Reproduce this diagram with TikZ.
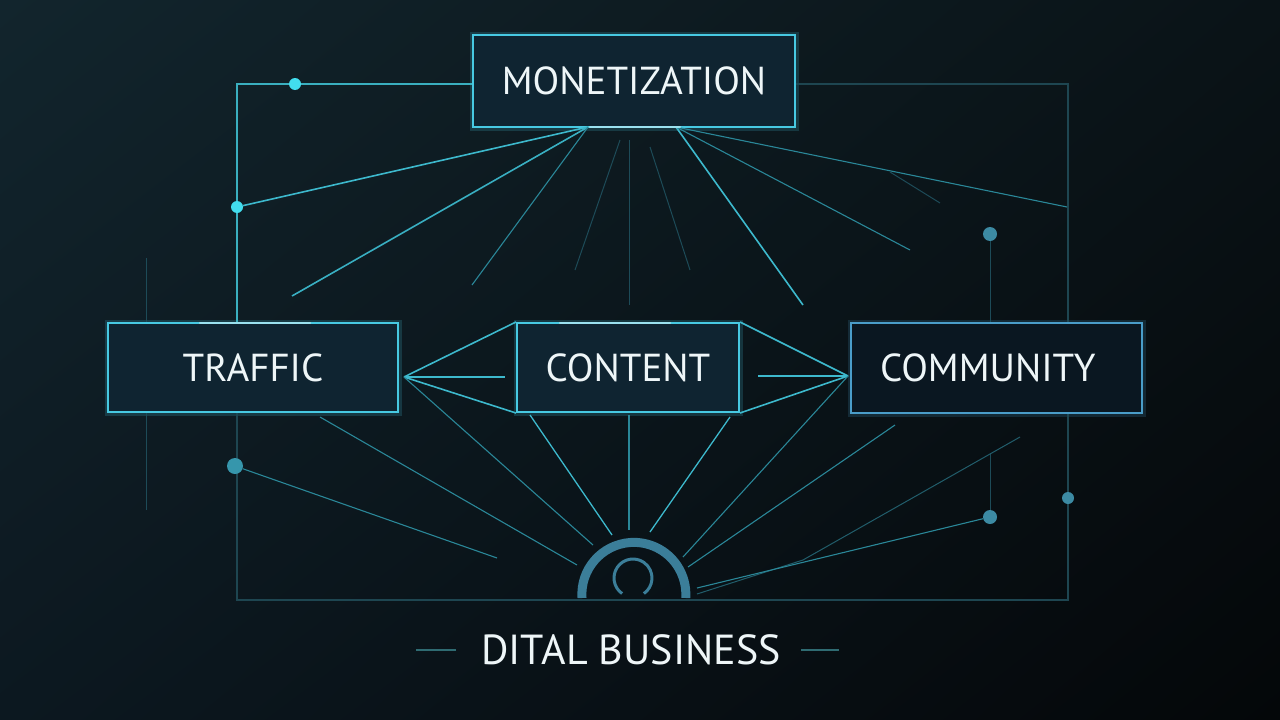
\documentclass[tikz,border=0pt]{standalone}
\usepackage{fontspec}
\setmainfont{PT Sans}
\usetikzlibrary{calc,shadings}
\definecolor{bgul}{HTML}{12252D}
\definecolor{bgur}{HTML}{0A1317}
\definecolor{bgll}{HTML}{0C1820}
\definecolor{bglr}{HTML}{040709}
\definecolor{boxfill}{HTML}{0F2431}
\definecolor{boxfillc}{HTML}{0A1721}
\definecolor{edge}{HTML}{47C9E2}
\definecolor{edgec}{HTML}{4A9DC9}
\definecolor{labeltext}{HTML}{EEF6F8}
\definecolor{raybright}{HTML}{3DB9CD}
\definecolor{raymid}{HTML}{2A8798}
\definecolor{rayfaint}{HTML}{1D4B58}
\definecolor{framebright}{HTML}{3AAFBF}
\definecolor{framedim}{HTML}{1E4651}
\definecolor{dotbright}{HTML}{42DDEE}
\definecolor{dotdim}{HTML}{3C8AA3}
\definecolor{hubcol}{HTML}{3B7E99}
\definecolor{dashcol}{HTML}{2F6B72}
\newcommand\boxfont{\fontsize{39}{46}\selectfont}
\newcommand\titlefont{\fontsize{42}{48}\selectfont}
\begin{document}
\begin{tikzpicture}[x=1pt,y=-1pt,
  labelbox/.style={draw=#1, line width=2, fill=boxfill, text=labeltext, font=\boxfont,
    inner sep=0, minimum height=89, preaction={draw=#1, line width=7, draw opacity=0.18}},
  labelbox/.default=edge,
  brightline/.style={draw=raybright, line width=1.6},
  rayline/.style={draw=raymid, line width=1.1},
  faintline/.style={draw=rayfaint, line width=1},
  rimline/.style={draw=framedim, line width=1.2},
  joint/.style={circle, fill=dotdim, inner sep=0, minimum size=#1},
  joint/.default=14,
  glowline/.style={draw=edge!55!white, line width=2.5, line cap=round}
]
\useasboundingbox (0,0) rectangle (1280,720);
\shade[upper left=bgul, upper right=bgur, lower left=bgll, lower right=bglr] (0,0) rectangle (1280,720);

\node[labelbox, minimum width=322, minimum height=92] (monet) at (634,81) {\raisebox{-2pt}{MONETIZATION}};
\node[labelbox, minimum width=290] (traffic) at (253,367.5) {\raisebox{-3pt}{TRAFFIC}};
\node[labelbox, minimum width=222] (content) at (628,367.5) {\raisebox{-3pt}{CONTENT}};
\node[labelbox=edgec, fill=boxfillc, text width=233, align=left, inner xsep=29,
  minimum height=90] (community) at (996.5,368) {\raisebox{-3pt}{COMMUNITY}};

\coordinate (ml) at (588,127);
\coordinate (mr) at (676,127);
\coordinate (lfan) at (404,377);
\coordinate (rfan) at (848,376);
\coordinate (hub) at (634,594);
\coordinate (ftl) at (237,84);
\coordinate (ftr) at (1068,84);
\coordinate (fbl) at (237,600);
\coordinate (fbr) at (1068,600);
\coordinate (gl) at (146,258);
\coordinate (gr) at (990,234);

\draw[rimline, draw=framebright] (ftl |- traffic.north) -- (ftl) -- (ftl -| monet.west);
\draw[rimline] (ftr -| monet.east) -- (ftr) -- (ftr |- community.north);
\draw[rimline] (ftr |- community.south) -- (fbr) -- (fbl) -- (fbl |- traffic.south);
\draw[faintline] (gl) -- (gl |- traffic.north);
\draw[faintline] (gl |- traffic.south) -- (146,510);
\draw[faintline] (gr) -- (gr |- community.north);
\draw[faintline] (990,453) -- (990,517);

\node[joint=12, fill=dotbright] (d1) at (295,84) {};
\node[joint=12, fill=dotbright] (d2) at (237,207) {};
\node[joint=16, fill=dotdim!90!cyan] (d3) at (235,466) {};
\node[joint] (d4) at (gr) {};
\node[joint] (d5) at (990,517) {};
\node[joint=12] (d6) at (1068,498) {};

\draw[brightline] (ml) -- (d2);
\draw[brightline, draw=raybright!80!raymid] (ml) -- (292,296);
\draw[rayline] (ml) -- (472,285);
\draw[brightline] (mr) -- (803,305);
\draw[rayline] (mr) -- (910,250);
\draw[rayline] (mr) -- (1067,207);
\foreach \xa/\ya/\xb/\yb in {620/140/575/270, 629/140/629/305, 650/147/690/270, 890/172/940/203}
  \draw[faintline] (\xa,\ya) -- (\xb,\yb);

\draw[brightline] (lfan) -- (content.north west);
\draw[brightline] (lfan) -- (content.south west);
\draw[brightline] (lfan) -- (505,377);
\draw[brightline] (content.north east) -- (rfan);
\draw[brightline] (content.south east) -- (rfan);
\draw[brightline] (758,376) -- (rfan);

\draw[rayline] (320,417) -- (577,565);
\draw[rayline] (d3) -- (497,558);
\draw[rayline] (lfan) -- (593,545);
\draw[brightline, line width=1.3] (530,415) -- (612,535);
\draw[rayline] (629,415) -- (629,530);
\draw[brightline, line width=1.3] (730,417) -- (650,532);
\draw[rayline] (rfan) -- (683,557);
\draw[rayline] (895,425) -- (688,567);
\draw[faintline, draw=rayfaint!70!raymid] (697,594) -- (803,560) -- (1020,437);
\draw[rayline] (697,588) -- (d5);

\draw[draw=hubcol, line width=9] ($(hub)+(-52,4)$) arc[start angle=176, end angle=364, radius=52];
\draw[draw=hubcol, line width=3] (633,578) ++(125:19) arc[start angle=125, end angle=415, radius=19];

\draw[glowline] (200,323) -- (310,323);
\draw[glowline] (560,323) -- (670,323);
\draw[glowline] (590,127) -- (680,127);

\node[font=\titlefont, text=labeltext, inner sep=0] (title) at (631,650) {DITAL BUSINESS};
\draw[dashcol, line width=2] ([xshift=-25]title.west) -- ++(-40,0);
\draw[dashcol, line width=2] ([xshift=20]title.east) -- ++(38,0);
\end{tikzpicture}
\end{document}
